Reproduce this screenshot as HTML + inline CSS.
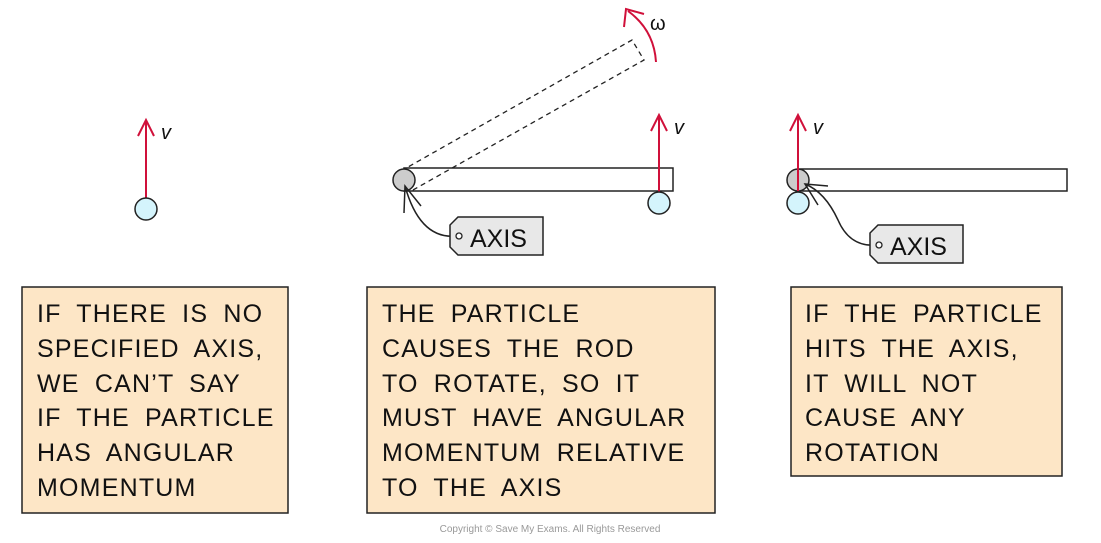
<!DOCTYPE html>
<html><head><meta charset="utf-8"><style>
html,body{margin:0;padding:0;background:#fff;}
svg{display:block;}
text{font-family:"Liberation Sans","DejaVu Sans",sans-serif;}
.t{font-size:25px;fill:#111;letter-spacing:1.2px;word-spacing:7px;}
</style></head><body>
<svg width="1101" height="543" viewBox="0 0 1101 543" xmlns="http://www.w3.org/2000/svg">
<rect x="22" y="287" width="266" height="226" fill="#fde6c6" stroke="#222" stroke-width="1.5"/>
<rect x="367" y="287" width="348" height="226" fill="#fde6c6" stroke="#222" stroke-width="1.5"/>
<rect x="791" y="287" width="271" height="189" fill="#fde6c6" stroke="#222" stroke-width="1.5"/>
<g class="t">
<text x="37" y="322">IF THERE IS NO</text>
<text x="37" y="357">SPECIFIED AXIS,</text>
<text x="37" y="392">WE CAN’T SAY</text>
<text x="37" y="426">IF THE PARTICLE</text>
<text x="37" y="461">HAS ANGULAR</text>
<text x="37" y="496">MOMENTUM</text>
<text x="382" y="322">THE PARTICLE</text>
<text x="382" y="357">CAUSES THE ROD</text>
<text x="382" y="392">TO ROTATE, SO IT</text>
<text x="382" y="426">MUST HAVE ANGULAR</text>
<text x="382" y="461">MOMENTUM RELATIVE</text>
<text x="382" y="496">TO THE AXIS</text>
<text x="805" y="322">IF THE PARTICLE</text>
<text x="805" y="357">HITS THE AXIS,</text>
<text x="805" y="392">IT WILL NOT</text>
<text x="805" y="426">CAUSE ANY</text>
<text x="805" y="461">ROTATION</text>
</g>
<line x1="146" y1="198" x2="146" y2="121" stroke="#d0103a" stroke-width="2"/>
<polyline points="138,136 146,120 154,136" fill="none" stroke="#d0103a" stroke-width="2"/>
<circle cx="146" cy="209" r="11" fill="#d4f4fc" stroke="#222" stroke-width="1.5"/>
<text x="161" y="139" font-size="20" font-style="italic" fill="#111">v</text>
<rect x="404" y="168" width="269" height="23" fill="#fff" stroke="#222" stroke-width="1.5"/>
<polygon points="401,171 632,40 644,60 413,190" fill="none" stroke="#222" stroke-width="1.3" stroke-dasharray="5,4"/>
<circle cx="404" cy="180" r="11" fill="#ccc" stroke="#222" stroke-width="1.5"/>
<line x1="659" y1="192" x2="659" y2="116" stroke="#d0103a" stroke-width="2"/>
<polyline points="651,131 659,115 667,131" fill="none" stroke="#d0103a" stroke-width="2"/>
<circle cx="659" cy="203" r="11" fill="#d4f4fc" stroke="#222" stroke-width="1.5"/>
<text x="674" y="134" font-size="20" font-style="italic" fill="#111">v</text>
<path d="M656,62 Q654,30 628,11" fill="none" stroke="#d0103a" stroke-width="2"/>
<polyline points="624,27 626,9 644,14" fill="none" stroke="#d0103a" stroke-width="2"/>
<text x="650" y="30" font-size="20" fill="#111">ω</text>
<path d="M457,236 Q420,240 405,186" fill="none" stroke="#222" stroke-width="1.5"/>
<polyline points="404,213 405,186 421,206" fill="none" stroke="#222" stroke-width="1.5"/>
<polygon points="458,217 543,217 543,255 458,255 450,247 450,225" fill="#e8e8e8" stroke="#222" stroke-width="1.5"/>
<circle cx="459" cy="236" r="3" fill="#fff" stroke="#222" stroke-width="1.3"/>
<text x="470" y="247" font-size="25" fill="#111">AXIS</text>
<rect x="800" y="169" width="267" height="22" fill="#fff" stroke="#222" stroke-width="1.5"/>
<circle cx="798" cy="180" r="11" fill="#ccc" stroke="#222" stroke-width="1.5"/>
<circle cx="798" cy="203" r="11" fill="#d4f4fc" stroke="#222" stroke-width="1.5"/>
<line x1="798" y1="191" x2="798" y2="116" stroke="#d0103a" stroke-width="2"/>
<polyline points="790,131 798,115 806,131" fill="none" stroke="#d0103a" stroke-width="2"/>
<text x="813" y="134" font-size="20" font-style="italic" fill="#111">v</text>
<path d="M878,245 Q850,248 838,220 Q825,192 805,184" fill="none" stroke="#222" stroke-width="1.5"/>
<polyline points="828,186 805,184 818,205" fill="none" stroke="#222" stroke-width="1.5"/>
<polygon points="878,225 963,225 963,263 878,263 870,255 870,233" fill="#e8e8e8" stroke="#222" stroke-width="1.5"/>
<circle cx="879" cy="245" r="3" fill="#fff" stroke="#222" stroke-width="1.3"/>
<text x="890" y="255" font-size="25" fill="#111">AXIS</text>
<text x="550" y="532" font-size="10" fill="#999" text-anchor="middle">Copyright © Save My Exams. All Rights Reserved</text>
</svg>
</body></html>
